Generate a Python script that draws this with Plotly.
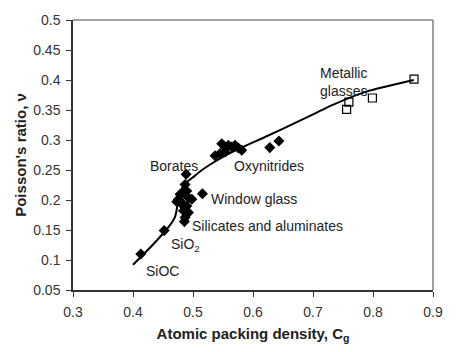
import plotly.graph_objects as go

# Filled diamonds (oxide / nitride glasses)
glass_x = [0.413, 0.452, 0.4885, 0.4868, 0.5157, 0.4785, 0.484, 0.4757, 0.4924, 0.498,
           0.4813, 0.4896, 0.484, 0.4924, 0.4868, 0.4857, 0.4896, 0.479, 0.473,
           0.5368, 0.545, 0.5479, 0.5534, 0.559, 0.5646, 0.570, 0.5756, 0.5812, 0.5534,
           0.628, 0.6432]
glass_y = [0.110, 0.149, 0.243, 0.2257, 0.2104, 0.2094, 0.212, 0.2012, 0.2039, 0.2012,
           0.193, 0.190, 0.182, 0.179, 0.171, 0.164, 0.2148, 0.198, 0.197,
           0.2737, 0.2775, 0.2938, 0.2884, 0.2912, 0.2884, 0.2912, 0.2868, 0.283, 0.2802,
           0.2873, 0.2983]

# Open squares (metallic glasses)
metal_x = [0.756, 0.7598, 0.799, 0.8684]
metal_y = [0.351, 0.3632, 0.370, 0.4013]

# Trend curve
curve_x = [0.400, 0.420, 0.440, 0.455, 0.465, 0.470, 0.473, 0.475, 0.478, 0.483, 0.490,
           0.500, 0.515, 0.530, 0.550, 0.578, 0.620, 0.680, 0.734, 0.790, 0.868]
curve_y = [0.092, 0.112, 0.133, 0.150, 0.163, 0.172, 0.185, 0.200, 0.212, 0.222, 0.230,
           0.238, 0.250, 0.260, 0.272, 0.286, 0.305, 0.333, 0.359, 0.381, 0.400]

# Labels
label_text = ["Metallic<br>glasses", "Oxynitrides", "Borates", "Window glass",
              "Silicates and aluminates", "SiO<sub>2</sub>", "SiOC"]
label_x = [0.708, 0.565, 0.425, 0.527, 0.495, 0.460, 0.419]
label_y = [0.396, 0.2573, 0.2573, 0.2017, 0.1575, 0.125, 0.0822]

FONT = "Liberation Sans, Arial, sans-serif"

fig = go.Figure()
fig.add_trace(go.Scatter(x=curve_x, y=curve_y, mode="lines",
                         line=dict(color="black", width=2, shape="spline", smoothing=0.6),
                         hoverinfo="skip"))
fig.add_trace(go.Scatter(x=glass_x, y=glass_y, mode="markers",
                         marker=dict(symbol="diamond", size=8.5, color="black")))
fig.add_trace(go.Scatter(x=metal_x, y=metal_y, mode="markers",
                         marker=dict(symbol="square-open", size=8, color="black",
                                     line=dict(width=1.2, color="black"))))

for t, x, y in zip(label_text, label_x, label_y):
    fig.add_annotation(x=x, y=y, text=t, showarrow=False, xanchor="left", yanchor="middle",
                       align="left", font=dict(family=FONT, size=14, color="#222"))

fig.add_shape(type="line", xref="paper", yref="paper", x0=0, x1=1, y0=1, y1=1,
              line=dict(color="#808080", width=1.5))
fig.add_shape(type="line", xref="paper", yref="paper", x0=1, x1=1, y0=0, y1=1,
              line=dict(color="#808080", width=1.5))

fig.update_layout(
    width=474, height=352,
    margin=dict(l=73, r=41, t=16, b=61),
    paper_bgcolor="white", plot_bgcolor="white",
    showlegend=False,
    font=dict(family=FONT, color="#222"),
    xaxis=dict(range=[0.3, 0.9], dtick=0.1, tick0=0.3, showgrid=False, zeroline=False,
               showline=True, linecolor="#333", linewidth=1.5,
               ticks="outside", ticklen=5, tickcolor="#333", tickwidth=1,
               tickfont=dict(size=14, color="#333"), ticklabelstandoff=3,
               title=dict(text="<b>Atomic packing density, C<sub>g</sub></b>",
                          font=dict(size=15, color="#222"), standoff=10)),
    yaxis=dict(range=[0.05, 0.5], dtick=0.05, tick0=0.05, showgrid=False, zeroline=False,
               showline=True, linecolor="#333", linewidth=1.5,
               ticks="outside", ticklen=5, tickcolor="#333", tickwidth=1,
               tickfont=dict(size=14, color="#333"), ticklabelstandoff=3,
               title=dict(text="<b>Poisson's ratio, ν</b>",
                          font=dict(size=15, color="#222"), standoff=3)),
)

fig.write_html("out.html")
